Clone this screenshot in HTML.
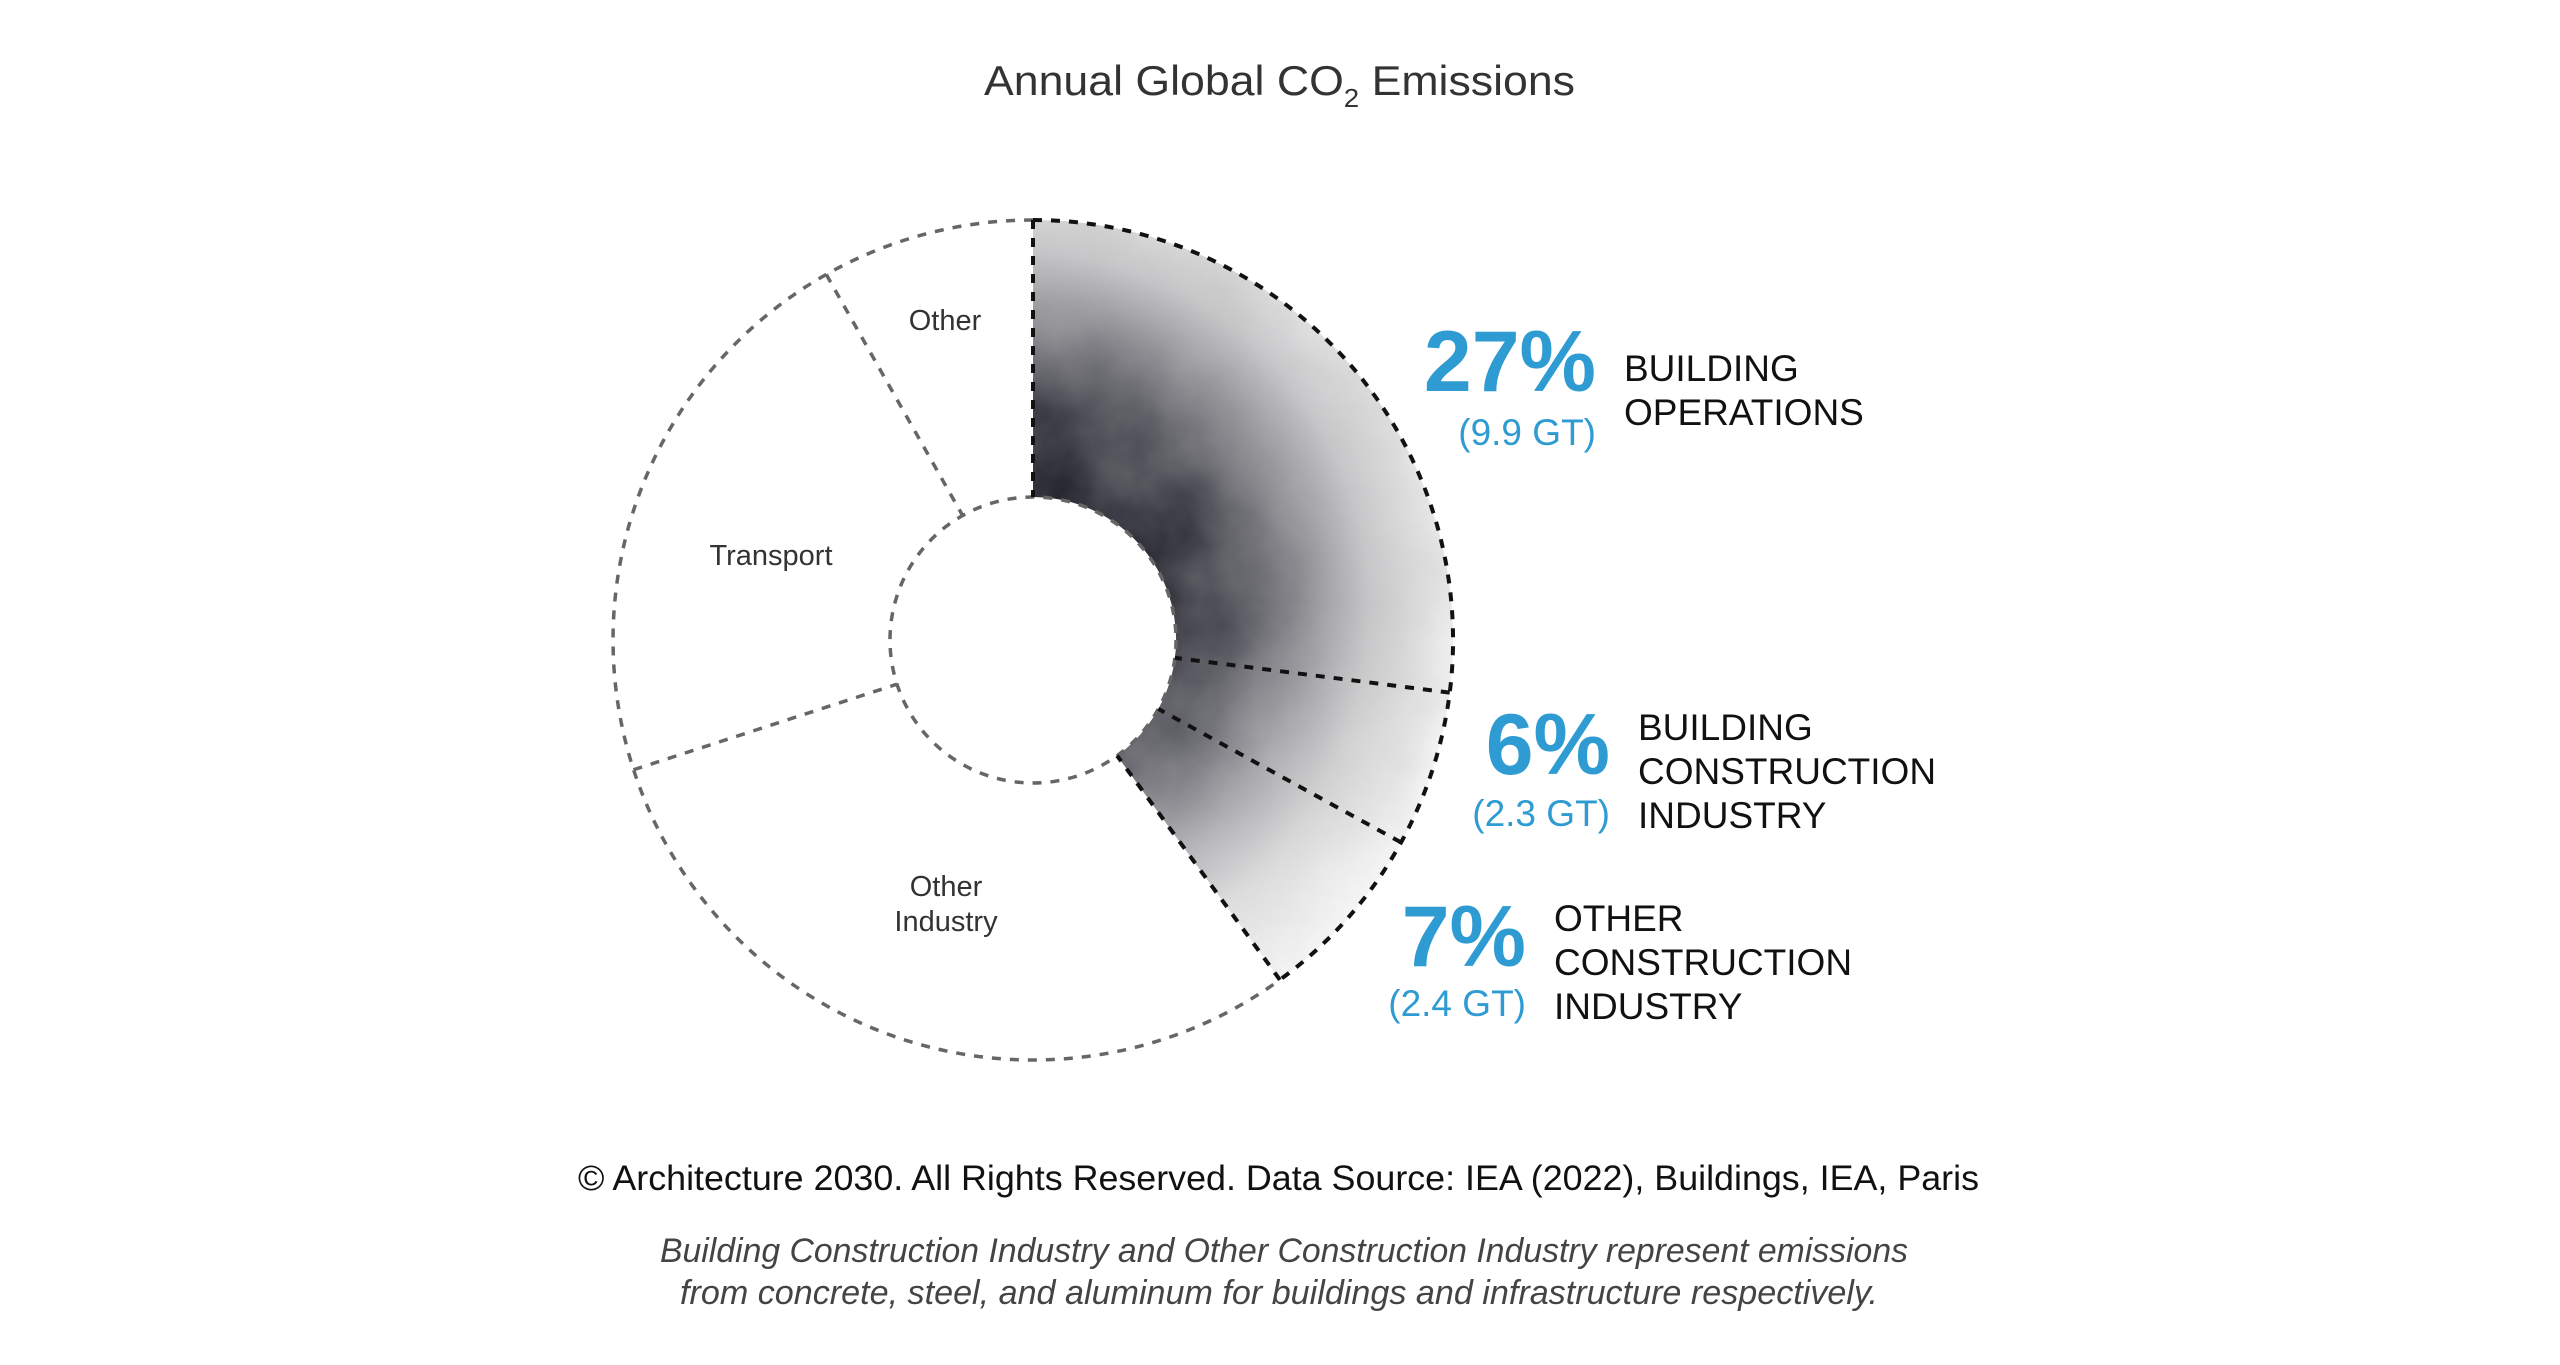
<!DOCTYPE html>
<html><head><meta charset="utf-8"><style>
html,body{margin:0;padding:0;background:#fff;}
svg{display:block;}
text{font-family:"Liberation Sans",sans-serif;}
</style></head><body>
<svg width="2560" height="1365" viewBox="0 0 2560 1365" xmlns="http://www.w3.org/2000/svg">
<defs>
<radialGradient id="rg" gradientUnits="userSpaceOnUse" cx="1010" cy="610" r="450">
<stop offset="0.30" stop-color="#22222d"/>
<stop offset="0.45" stop-color="#3c3c46"/>
<stop offset="0.62" stop-color="#808086"/>
<stop offset="0.80" stop-color="#c8c8ca"/>
<stop offset="1" stop-color="#f2f2f3"/>
</radialGradient>
<linearGradient id="lg" gradientUnits="userSpaceOnUse" x1="0" y1="600" x2="0" y2="980">
<stop offset="0" stop-color="#fff" stop-opacity="0"/>
<stop offset="1" stop-color="#fff" stop-opacity="0.45"/>
</linearGradient>
<filter id="cloud" x="0" y="0" width="100%" height="100%">
<feTurbulence type="fractalNoise" baseFrequency="0.012" numOctaves="4" seed="3"/>
<feColorMatrix type="matrix" values="0 0 0 0 0.5  0 0 0 0 0.5  0 0 0 0 0.5  0 0 0 -1.2 0.9"/>
</filter>
<clipPath id="sec"><path d="M1033,220 A420,420 0 0 1 1279.9,979.8 L1117.1,755.7 A143,143 0 0 0 1033,497 Z"/></clipPath>
</defs>
<rect width="2560" height="1365" fill="#fff"/>

<text x="984" y="95" font-size="42" fill="#333" textLength="591" lengthAdjust="spacingAndGlyphs">Annual Global CO<tspan font-size="26" dy="12">2</tspan><tspan dy="-12"> Emissions</tspan></text>

<g clip-path="url(#sec)">
<rect x="600" y="200" width="900" height="800" fill="url(#rg)"/>
<rect x="600" y="200" width="900" height="800" filter="url(#cloud)" opacity="0.4"/>
<rect x="600" y="200" width="900" height="800" fill="url(#lg)"/>
</g>

<g fill="none" stroke="#666" stroke-width="3.5" stroke-dasharray="9 9">
<path d="M1033,220 A420,420 0 1 0 1279.9,979.8"/>
<circle cx="1033" cy="640" r="143"/>
<line x1="633.5" y1="769.8" x2="897" y2="684.2"/>
<line x1="826.2" y1="274.4" x2="962.6" y2="515.5"/>
</g>
<g fill="none" stroke="#111" stroke-width="4" stroke-dasharray="9 9">
<path d="M1033,220 A420,420 0 0 1 1279.9,979.8"/>
<line x1="1033" y1="220" x2="1033" y2="497"/>
<line x1="1449.7" y1="692.6" x2="1174.9" y2="657.9"/>
<line x1="1401" y1="842.4" x2="1158.3" y2="708.9"/>
<line x1="1279.9" y1="979.8" x2="1117.1" y2="755.7"/>
</g>

<g font-size="29" fill="#333" text-anchor="middle">
<text x="945" y="330">Other</text>
<text x="771" y="565">Transport</text>
<text x="946" y="896">Other</text>
<text x="946" y="931">Industry</text>
</g>

<g fill="#2e9bd2" text-anchor="end">
<text x="1596" y="391" font-size="86" font-weight="bold">27%</text>
<text x="1596" y="445" font-size="37">(9.9 GT)</text>
<text x="1610" y="774" font-size="86" font-weight="bold">6%</text>
<text x="1610" y="826" font-size="37">(2.3 GT)</text>
<text x="1526" y="966" font-size="86" font-weight="bold">7%</text>
<text x="1526" y="1016" font-size="37">(2.4 GT)</text>
</g>
<g fill="#111" font-size="37">
<text x="1624" y="381">BUILDING</text>
<text x="1624" y="425">OPERATIONS</text>
<text x="1638" y="740">BUILDING</text>
<text x="1638" y="784">CONSTRUCTION</text>
<text x="1638" y="828">INDUSTRY</text>
<text x="1554" y="931">OTHER</text>
<text x="1554" y="975">CONSTRUCTION</text>
<text x="1554" y="1019">INDUSTRY</text>
</g>

<text x="578" y="1190" font-size="35" fill="#111" textLength="1401" lengthAdjust="spacingAndGlyphs">© Architecture 2030. All Rights Reserved. Data Source: IEA (2022), Buildings, IEA, Paris</text>
<text x="660" y="1262" font-size="34" fill="#444" font-style="italic" textLength="1248" lengthAdjust="spacingAndGlyphs">Building Construction Industry and Other Construction Industry represent emissions</text>
<text x="680" y="1304" font-size="34" fill="#444" font-style="italic" textLength="1198" lengthAdjust="spacingAndGlyphs">from concrete, steel, and aluminum for buildings and infrastructure respectively.</text>
</svg>
</body></html>
